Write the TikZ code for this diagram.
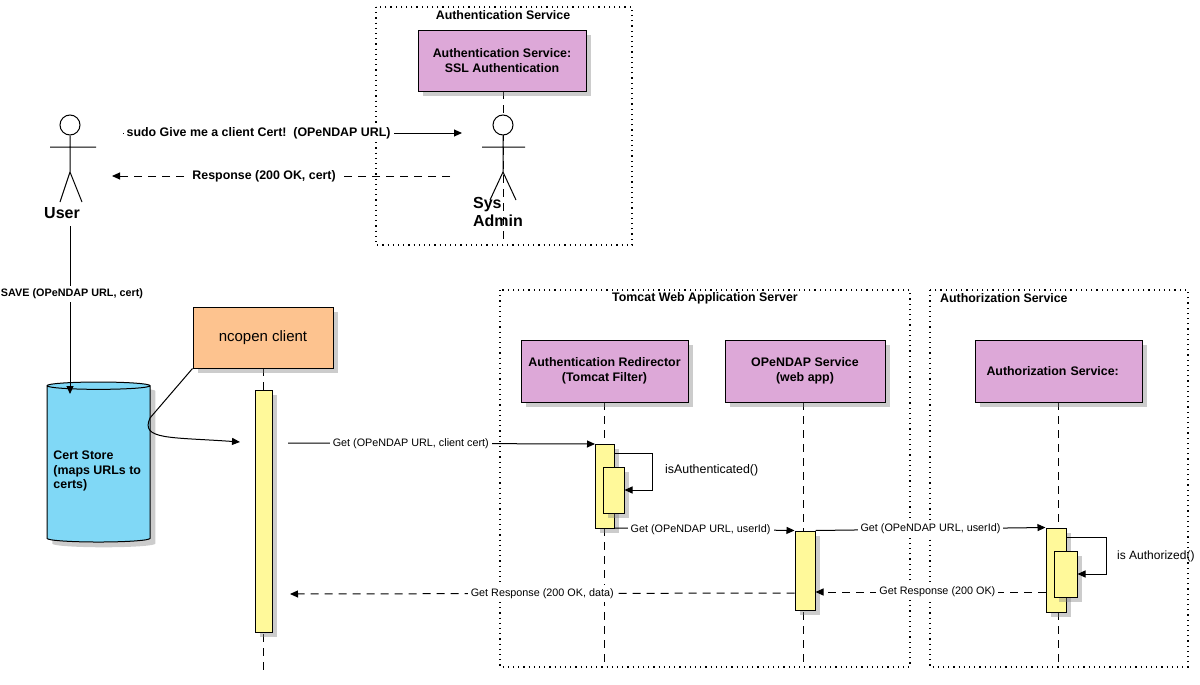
\documentclass[tikz,border=0pt]{standalone}
\usepackage{fontspec}
\setmainfont{Liberation Sans}
\usetikzlibrary{shapes.geometric,arrows.meta,shadows}
\definecolor{purp}{HTML}{DDA8D8}
\definecolor{yel}{HTML}{FFF99A}
\definecolor{cyanc}{HTML}{80D8F6}
\definecolor{orng}{HTML}{FDC38F}
\tikzset{
 bl/.style={font=\fontsize{6.2}{7.4}\selectfont\bfseries},
 sm/.style={font=\fontsize{5.4}{6.4}\selectfont},
 frame/.style={draw,dotted,line width=0.6pt},
 actbox/.style={draw,fill=purp,drop shadow={opacity=0.4}},
 bar/.style={draw,fill=yel,drop shadow={opacity=0.4}},
 life/.style={dashed,dash pattern=on 4pt off 3pt},
 msg/.style={-{Triangle[length=4pt,width=3.5pt]}},
 ret/.style={-{Triangle[length=4pt,width=3.5pt]},dashed,dash pattern=on 4pt off 3pt},
 lab/.style={fill=white,inner sep=1.5pt}
}
\begin{document}
\begin{tikzpicture}[x=0.5pt,y=-0.5pt,line width=0.5pt]
\useasboundingbox (0,0) rectangle (1200,685);
% frames
\draw[frame] (376,7) rectangle (632,245);
\node[bl] at (503,15) {Authentication Service};
\draw[frame] (500,290) rectangle (910,667);
\node[bl] at (705,298) {Tomcat Web Application Server};
\draw[frame] (930,290) rectangle (1188,667);
\node[bl,anchor=west] at (933,298) {Authorization Service};
% ssl box + sysadmin
\draw[life] (503,91) -- (503,245);
\node[actbox,minimum width=84pt,minimum height=30.5pt,bl,align=center] (ssl) at (502,60.5) {Authentication Service:\\SSL Authentication};
\node[draw,circle,fill=white,minimum size=10pt,inner sep=0pt] (sah) at (503,125) {};
\draw (sah.south) -- (503,172) (482,147) -- (525,147) (490,200) -- (503,172) -- (516,200);
\node[font=\fontsize{8}{9}\selectfont\bfseries,align=left] (sa) at (498,212) {Sys\\Admin};
% user
\node[draw,circle,fill=white,minimum size=10pt,inner sep=0pt] (uh) at (70,125) {};
\draw (uh.south) -- (70,172) (50,147) -- (96,147) (60,202) -- (70,172) -- (82,202);
\node[font=\fontsize{8}{9}\selectfont\bfseries] (user) at (62,213) {User};
\coordinate (m1a) at (123,133); \coordinate (m1b) at (462,133);
\draw[msg] (m1a) -- node[lab,bl,pos=0.4]{sudo Give me a client Cert!\ \ (OPeNDAP URL)} (m1b);
\coordinate (r1a) at (450,176); \coordinate (r1b) at (112,176);
\draw[ret] (r1a) -- node[lab,bl,pos=0.55]{Response (200 OK, cert)} (r1b);
% cert store
\node[cylinder,shape border rotate=90,draw,fill=cyanc,minimum width=51.5pt,minimum height=80pt,aspect=0.55,drop shadow={opacity=0.4}] (cs) at (98.5,465) {};
\node[bl,align=left,anchor=west,inner sep=0pt] at (53,471) {Cert Store\\(maps URLs to\\certs)};
\coordinate (us) at (70,226);
\draw[msg] (us) -- (70,394);
\node[lab,font=\fontsize{5.4}{6.4}\selectfont\bfseries] at (72,294) {SAVE (OPeNDAP URL, cert)};
% ncopen
\draw[life] (263,368) -- (263,675);
\node[draw,fill=orng,minimum width=70pt,minimum height=30.5pt,font=\fontsize{7.5}{9}\selectfont,drop shadow={opacity=0.4}] (nc) at (263,337.5) {ncopen client};
\node[bar,minimum width=8.5pt,minimum height=121pt,inner sep=0pt] (ncb) at (263.5,511) {};
\coordinate (ncin) at (240,442);
\draw[msg] (nc.south west) -- (150,418) .. controls (140,440) and (170,437) .. (ncin);
% lifelines
\draw[life] (604,402) -- (604,667);
\draw[life] (803,402) -- (803,667);
\draw[life] (1058,402) -- (1058,667);
\node[actbox,minimum width=83.5pt,minimum height=31pt,bl,align=center] (ar) at (604.5,371) {Authentication Redirector\\(Tomcat Filter)};
\node[actbox,minimum width=80pt,minimum height=31pt,bl,align=center] (os) at (805,371) {OPeNDAP Service\\(web app)};
\node[actbox,minimum width=83.5pt,minimum height=31pt,bl,align=left,text width=72pt] (az) at (1058.5,371) {Authorization Service:};
% bars
\node[bar,minimum width=9.5pt,minimum height=42pt,inner sep=0pt] (arb) at (604.5,486) {};
\node[bar,minimum width=10.5pt,minimum height=23pt,inner sep=0pt] (arb2) at (613.5,490) {};
\node[bar,minimum width=10pt,minimum height=39.5pt,inner sep=0pt] (osb) at (805,570.5) {};
\node[bar,minimum width=10pt,minimum height=42pt,inner sep=0pt] (azb) at (1056,570) {};
\node[bar,minimum width=11.5pt,minimum height=23pt,inner sep=0pt] (azb2) at (1065.5,574) {};
% messages
\coordinate (g1a) at (288,443);
\draw[msg] (g1a) -- node[lab,sm,pos=0.4]{Get (OPeNDAP URL, client cert)} (595,444);
\draw[msg] (614,453) -- (652,453) -- (652,490) -- (arb2.east |- 0,490);
\node[anchor=west,font=\fontsize{6.2}{7.5}\selectfont] at (658,470) {isAuthenticated()};
\draw[msg] (614,528) -- node[lab,sm,pos=0.48]{Get (OPeNDAP URL, userId)} (osb.north west);
\draw[msg] (osb.north east) -- node[lab,sm,pos=0.5]{Get (OPeNDAP URL, userId)} (azb.north west);
\draw[msg] (1066,537) -- (1106,537) -- (1106,574) -- (azb2.east |- 0,574);
\node[anchor=west,font=\fontsize{6}{7.5}\selectfont] at (1110,556) {is Authorized()};
\draw[ret] (azb.west |- 0,592) -- node[lab,sm,pos=0.47]{Get Response (200 OK)} (osb.east |- 0,592);
\coordinate (ncr) at (290,594);
\draw[ret] (osb.west |- 0,593) -- node[lab,sm,pos=0.5]{Get Response (200 OK, data)} (ncr);
\end{tikzpicture}
\end{document}
